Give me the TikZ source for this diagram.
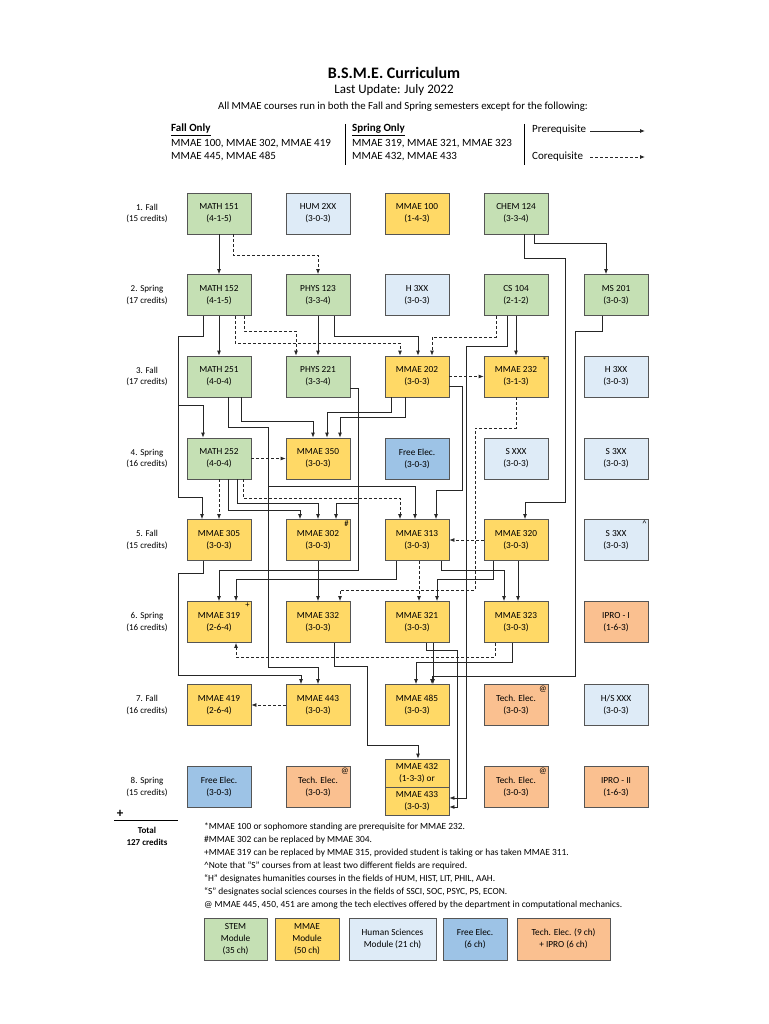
\documentclass[tikz,border=0pt]{standalone}
\usepackage{fontspec}
\setmainfont{Carlito}
\usetikzlibrary{arrows.meta}
\definecolor{cgreen}{HTML}{C5E0B4}
\definecolor{clblue}{HTML}{DEEBF7}
\definecolor{cyellow}{HTML}{FFD966}
\definecolor{cblue}{HTML}{9DC3E6}
\definecolor{corange}{HTML}{FAC090}
\definecolor{cedge}{HTML}{555555}
\tikzset{
 box/.style={draw=cedge,line width=0.8pt,fill=#1,minimum width=64pt,minimum height=41pt,align=center,font=\fontsize{9.3}{12}\selectfont,inner sep=1pt},
 pre/.style={draw=black!85,line width=0.8pt,-{Latex[length=5pt,width=4pt]}},
 co/.style={pre,dashed,dash pattern=on 3pt off 2pt},
 sem/.style={align=center,font=\fontsize{9}{11.5}\selectfont},
 sup/.style={anchor=north east,font=\fontsize{8.5}{8.5}\selectfont,inner sep=1.5pt},
 txt/.style={anchor=west,font=\fontsize{9.4}{11}\selectfont,inner sep=0pt},
 hd/.style={anchor=west,font=\fontsize{11}{12}\selectfont,inner sep=0pt}
}
\begin{document}
\begin{tikzpicture}[x=1pt,y=-1pt]
\useasboundingbox (0,0) rectangle (768,1024);
% header
\node[font=\fontsize{16}{17}\selectfont\bfseries] (title) at (394,73) {B.S.M.E. Curriculum};
\node[font=\fontsize{13}{14}\selectfont] (upd) at (394,90) {Last Update: July 2022};
\node[font=\fontsize{10.8}{12}\selectfont] (all) at (403,107) {All MMAE courses run in both the Fall and Spring semesters except for the following:};
\node[hd,font=\fontsize{11}{12}\selectfont\bfseries] (fo) at (171,130) {\underline{Fall Only}};
\node[hd] (fo1) at (171,143.5) {MMAE 100, MMAE 302, MMAE 419};
\node[hd] (fo2) at (171,156.5) {MMAE 445, MMAE 485};
\node[hd,font=\fontsize{11}{12}\selectfont\bfseries] (so) at (352,130) {\underline{Spring Only}};
\node[hd] (so1) at (352,143.5) {MMAE 319, MMAE 321, MMAE 323};
\node[hd] (so2) at (352,156.5) {MMAE 432, MMAE 433};
\draw[line width=0.9pt] (345,124) -- (345,165);
\draw[line width=0.9pt] (524,124) -- (524,165);
\node[hd] (lp) at (532,130) {Prerequisite};
\node[hd] (lc) at (532,157) {Corequisite};
\coordinate (lpa) at (590,131); \coordinate (lpb) at (645,131);
\coordinate (lca) at (590,157); \coordinate (lcb) at (645,157);
\draw[pre] (lpa) -- (lpb);
\draw[co] (lca) -- (lcb);
% semesters
\node[sem] (s1) at (147,213.5) {1. Fall\\(15 credits)};
\node[sem] (s2) at (147,295) {2. Spring\\(17 credits)};
\node[sem] (s3) at (147,376.5) {3. Fall\\(17 credits)};
\node[sem] (s4) at (147,458.5) {4. Spring\\(16 credits)};
\node[sem] (s5) at (147,540) {5. Fall\\(15 credits)};
\node[sem] (s6) at (147,622) {6. Spring\\(16 credits)};
\node[sem] (s7) at (147,705) {7. Fall\\(16 credits)};
\node[sem] (s8) at (147,787) {8. Spring\\(15 credits)};
% row 1
\node[box=cgreen] (m151) at (219,213.5) {MATH 151\\(4-1-5)};
\node[box=clblue] (hum) at (318,213.5) {HUM 2XX\\(3-0-3)};
\node[box=cyellow] (mm100) at (417,213.5) {MMAE 100\\(1-4-3)};
\node[box=cgreen] (ch124) at (516,213.5) {CHEM 124\\(3-3-4)};
% row 2
\node[box=cgreen] (m152) at (219,295) {MATH 152\\(4-1-5)};
\node[box=cgreen] (p123) at (318,295) {PHYS 123\\(3-3-4)};
\node[box=clblue] (h3a) at (417,295) {H 3XX\\(3-0-3)};
\node[box=cgreen] (cs104) at (516,295) {CS 104\\(2-1-2)};
\node[box=cgreen] (ms201) at (616,295) {MS 201\\(3-0-3)};
% row 3
\node[box=cgreen] (m251) at (219,376.5) {MATH 251\\(4-0-4)};
\node[box=cgreen] (p221) at (318,376.5) {PHYS 221\\(3-3-4)};
\node[box=cyellow] (mm202) at (417,376.5) {MMAE 202\\(3-0-3)};
\node[box=cyellow] (mm232) at (516,376.5) {MMAE 232\\(3-1-3)};
\node[box=clblue] (h3b) at (616,376.5) {H 3XX\\(3-0-3)};
% row 4
\node[box=cgreen] (m252) at (219,458.5) {MATH 252\\(4-0-4)};
\node[box=cyellow] (mm350) at (318,458.5) {MMAE 350\\(3-0-3)};
\node[box=cblue] (fe1) at (417,458.5) {Free Elec.\\(3-0-3)};
\node[box=clblue] (sxxx) at (516,458.5) {S XXX\\(3-0-3)};
\node[box=clblue] (s3a) at (616,458.5) {S 3XX\\(3-0-3)};
% row 5
\node[box=cyellow] (m305) at (219,540) {MMAE 305\\(3-0-3)};
\node[box=cyellow] (mm302) at (318,540) {MMAE 302\\(3-0-3)};
\node[box=cyellow] (mm313) at (417,540) {MMAE 313\\(3-0-3)};
\node[box=cyellow] (mm320) at (516,540) {MMAE 320\\(3-0-3)};
\node[box=clblue] (s3b) at (616,540) {S 3XX\\(3-0-3)};
% row 6
\node[box=cyellow] (mm319) at (219,622) {MMAE 319\\(2-6-4)};
\node[box=cyellow] (mm332) at (318,622) {MMAE 332\\(3-0-3)};
\node[box=cyellow] (mm321) at (417,622) {MMAE 321\\(3-0-3)};
\node[box=cyellow] (mm323) at (516,622) {MMAE 323\\(3-0-3)};
\node[box=corange] (ipro1) at (616,622) {IPRO - I\\(1-6-3)};
% row 7
\node[box=cyellow] (mm419) at (219,705) {MMAE 419\\(2-6-4)};
\node[box=cyellow] (mm443) at (318,705) {MMAE 443\\(3-0-3)};
\node[box=cyellow] (mm485) at (417,705) {MMAE 485\\(3-0-3)};
\node[box=corange] (te1) at (516,705) {Tech. Elec.\\(3-0-3)};
\node[box=clblue] (hs) at (616,705) {H/S XXX\\(3-0-3)};
% row 8
\node[box=cblue] (fe2) at (219,787) {Free Elec.\\(3-0-3)};
\node[box=corange] (te2) at (318,787) {Tech. Elec.\\(3-0-3)};
\node[box=cyellow,minimum height=28pt] (mm432) at (417,773) {MMAE 432\\(1-3-3) or};
\node[box=cyellow,minimum height=28pt] (mm433) at (417,801) {MMAE 433\\(3-0-3)};
\node[box=corange] (te3) at (516,787) {Tech. Elec.\\(3-0-3)};
\node[box=corange] (ipro2) at (616,787) {IPRO - II\\(1-6-3)};
% superscripts
\node[sup] (sa) at (mm232.north east) {*};
\node[sup] (sb) at (mm302.north east) {\#};
\node[sup] (sc) at (s3b.north east) {\textasciicircum};
\node[sup] (sd) at (mm319.north east) {+};
\node[sup] (se) at (te1.north east) {@};
\node[sup] (sf) at (te2.north east) {@};
\node[sup] (sg) at (te3.north east) {@};
% connectors row 1-2
\draw[pre] (m151) -- (m152);
\draw[co] ([xshift=14]m151.south) |- (318,255) -- (p123);
\draw[pre] ([xshift=8]ch124.south) |- (565,258) |- (525,502) -- ([xshift=9]mm320.north);
\draw[pre] ([xshift=18]ch124.south) |- (606,243) -- ([xshift=-10]ms201.north);
% row 2-3
\draw[pre] (m152) -- (m251);
\draw[pre] ([xshift=-16]m152.south) |- (178,336) |- (203,405) -- ([xshift=-16]m252.north);
\draw[pre] (178,405) |- (202,497) -- ([xshift=-17]m305.north);
\draw[co] ([xshift=16]m152.south) |- (400,343) -- ([xshift=-17]mm202.north);
\draw[co] ([xshift=25]m152.south) |- (296,331) -- ([xshift=-22]p221.north);
\draw[pre] (p123) -- (p221);
\draw[pre] ([xshift=16]p123.south) |- (418,336) -- ([xshift=1]mm202.north);
\draw[co] ([xshift=-20]cs104.south) |- (432,337) -- ([xshift=15]mm202.north);
\draw[pre] (cs104) -- (mm232);
\draw[pre] ([xshift=-9]cs104.south) |- (466,346) |- ([yshift=3]mm433.east);
\draw[co] (mm202) -- (mm232);
\draw[co] (mm232.south) |- (475,428) |- (340,590) -- ([xshift=22]mm332.north);
\draw[pre] ([xshift=-14]ms201.south) |- (575,331) |- (432,676) -- ([xshift=15]mm485.north);
% row 3-5
\draw[pre] ([xshift=22]m251.south) |- (313,421) -- ([xshift=-5]mm350.north);
\draw[pre] ([xshift=-26]mm202.south) |- (327,412) -- ([xshift=9]mm350.north);
\draw[pre] ([xshift=-12]mm202.south) |- (340,417) -- ([xshift=22]mm350.north);
\draw[co] (m252) -- (mm350);
\draw[co] (m252) -- (m305);
\draw[pre] ([xshift=9]m252.south) |- (300,510) -- ([xshift=-18]mm302.north);
\draw[pre] ([xshift=18]m252.south) |- (318,503) -- (mm302.north);
\draw[pre] ([yshift=-12]p221.east) -| (358,503) -- (336,503) -- ([xshift=18]mm302.north);
\draw[pre] (358,503) |- (219,570) -- (mm319.north);
\draw[co] ([xshift=24]m252.south) |- (400,498) -- ([xshift=-17]mm313.north);
\draw[pre] ([yshift=-10]mm202.east) -| (462,490) -| ([xshift=19]mm313.north);
\draw[pre] ([xshift=9]m251.south) |- (268,427) |- (318,667) -- (mm443.north);
\draw[pre] (268,486) -| ([xshift=-2]mm313.north);
% row 5-6
\draw[pre] ([xshift=-16]m305.south) |- (178,573) |- (301,675) -- ([xshift=-17]mm443.north);
\draw[pre] (mm302) -- (mm332);
\draw[pre] ([xshift=-21]mm313.south) |- (236,579) -- ([xshift=17]mm319.north);
\draw[co] ([xshift=2]mm313.south) -- ([xshift=2]mm321.north);
\draw[pre] ([xshift=-23]mm320.south) |- (437,579) -- ([xshift=20]mm321.north);
\draw[pre] ([xshift=24]mm313.south) |- (504,570) -- ([xshift=-12]mm323.north);
\draw[pre] ([xshift=2]mm320.south) -- ([xshift=2]mm323.north);
\draw[co] (mm320) -- (mm313);
% row 6-8
\draw[co] ([xshift=-21]mm323.south) |- (236,657) -- ([xshift=17]mm319.south);
\draw[pre] ([xshift=-4]mm323.south) |- (416,662) -- ([xshift=-1]mm485.north);
\draw[pre] ([xshift=16]mm321.south) -- ([xshift=16]mm485.north);
\draw[pre] ([xshift=9]mm321.south) |- (457,650) |- ([yshift=-6]mm433.east);
\draw[co] (mm443) -- (mm419);
\draw[pre] ([xshift=16]mm332.south) |- (367,666) |- (418,745) -- ([xshift=1]mm432.north);
% totals
\node[font=\fontsize{13}{13}\selectfont\bfseries] (plus) at (120,814) {+};
\draw[line width=0.8pt] (114,820) -- (178,820);
\node[sem,font=\fontsize{9}{12}\selectfont\bfseries] (tot) at (147,836) {Total\\127 credits};
% notes
\node[txt] (n1) at (204,827) {*MMAE 100 or sophomore standing are prerequisite for MMAE 232.};
\node[txt] (n2) at (204,840) {\#MMAE 302 can be replaced by MMAE 304.};
\node[txt] (n3) at (204,853) {+MMAE 319 can be replaced by MMAE 315, provided student is taking or has taken MMAE 311.};
\node[txt] (n4) at (204,866) {\textasciicircum Note that “S” courses from at least two different fields are required.};
\node[txt] (n5) at (204,879) {“H” designates humanities courses in the fields of HUM, HIST, LIT, PHIL, AAH.};
\node[txt] (n6) at (204,892) {“S” designates social sciences courses in the fields of SSCI, SOC, PSYC, PS, ECON.};
\node[txt] (n7) at (204,905) {@ MMAE 445, 450, 451 are among the tech electives offered by the department in computational mechanics.};
% legend
\node[box=cgreen,minimum width=63pt,minimum height=42pt] (l1) at (235.5,939) {STEM\\Module\\(35 ch)};
\node[box=cyellow,minimum width=64pt,minimum height=42pt] (l2) at (307,939) {MMAE\\Module\\(50 ch)};
\node[box=clblue,minimum width=87pt,minimum height=42pt] (l3) at (392.5,939) {Human Sciences\\Module (21 ch)};
\node[box=cblue,minimum width=64pt,minimum height=42pt] (l4) at (475,939) {Free Elec.\\(6 ch)};
\node[box=corange,minimum width=93pt,minimum height=42pt] (l5) at (563.5,939) {Tech. Elec. (9 ch)\\+ IPRO (6 ch)};
\end{tikzpicture}
\end{document}
